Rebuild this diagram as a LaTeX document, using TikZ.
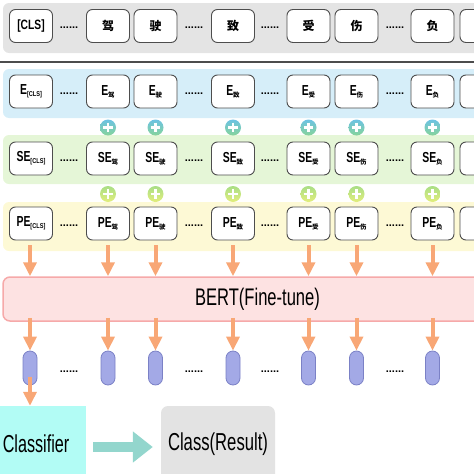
\documentclass[tikz,border=0pt]{standalone}
\usepackage{fontspec}
\setmainfont{Liberation Sans}
\newfontfamily\cjk{Noto Sans CJK SC}
\usepackage{graphicx}
\usetikzlibrary{arrows.meta}
\definecolor{grayband}{HTML}{E4E4E4}
\definecolor{blueband}{HTML}{D6EEF9}
\definecolor{greenband}{HTML}{E5F6D7}
\definecolor{yellowband}{HTML}{FDF9D5}
\definecolor{bertfill}{HTML}{FDE2E2}
\definecolor{bertdraw}{HTML}{F6A9A9}
\definecolor{orangec}{HTML}{F8A776}
\definecolor{capf}{HTML}{A3A9E6}
\definecolor{capd}{HTML}{7B81C6}
\definecolor{cyanc}{HTML}{B2FCF5}
\definecolor{tealc}{HTML}{93D6CD}
\definecolor{resgray}{HTML}{E3E3E3}
\definecolor{boxc}{HTML}{4D4D4D}
\definecolor{plusblue}{HTML}{6CC2E4}
\definecolor{plusgreen}{HTML}{86D49A}
\definecolor{plusgreen2}{HTML}{A9DE86}
\definecolor{plusyellow}{HTML}{E3EE7C}
\newcommand{\sq}[2]{\scalebox{#1}[1]{#2}}
\newcommand{\tokc}[1]{{\fontsize{12}{12}\selectfont\bfseries\cjk #1}}
\newcommand{\embc}[2]{\sq{0.72}{\fontsize{14.5}{14.5}\selectfont\bfseries #1}\raisebox{-2pt}{\fontsize{6.5}{6.5}\selectfont\bfseries\cjk #2}}
\newcommand{\embl}[2]{\sq{0.72}{\fontsize{14.5}{14.5}\selectfont\bfseries #1}\raisebox{-2pt}{\sq{0.8}{\fontsize{7}{7}\selectfont\bfseries #2}}}
\begin{document}
\begin{tikzpicture}[x=1pt,y=-1pt,
  band/.style={rounded corners=6pt},
  tokbox/.style={draw=boxc, fill=white, rounded corners=6pt, line width=0.9pt,
    minimum width=43pt, minimum height=33pt, inner sep=0pt},
  dotsn/.style={font=\bfseries\fontsize{11}{11}\selectfont, inner sep=0pt},
  oarrow/.style={draw=orangec, line width=4pt, -{Triangle[width=13pt,length=14pt]}},
  capsule/.style={draw=capd, fill=capf, rounded corners=7pt, line width=0.8pt,
    minimum width=14pt, minimum height=34pt, inner sep=0pt},
  plusw/.style={draw=white, line width=2.2pt}
]
\useasboundingbox (0,0) rectangle (474,474);
\clip (0,0) rectangle (474,474);
% bands
\fill[band, grayband] (3,3) rectangle (500,53);
\draw[boxc, line width=1.2pt] (0,62) -- (474,62);
\fill[band, blueband] (3,69) rectangle (500,118);
\fill[band, greenband] (3,135) rectangle (500,184);
\fill[band, yellowband] (3,202) rectangle (500,251);
% column 0
\node[tokbox] (t0) at (31,26) {\sq{0.76}{\fontsize{13.5}{13.5}\selectfont\bfseries [CLS]}};
\node[tokbox] (e0) at (31,91.5) {\embl{E}{[CLS]}};
\node[tokbox] (s0) at (31,158.5) {\embl{SE}{[CLS]}};
\node[tokbox] (p0) at (31,223.5) {\embl{PE}{[CLS]}};
% columns with characters
\foreach \i/\x/\c in {1/108/驾, 2/155.5/驶, 3/233/致, 4/308.5/受, 5/356.5/伤, 6/432.5/负} {
  \node[tokbox] (t\i) at (\x,26) {\tokc{\c}};
  \node[tokbox] (e\i) at (\x,91.5) {\embc{E}{\c}};
  \node[tokbox] (s\i) at (\x,158.5) {\embc{SE}{\c}};
  \node[tokbox] (p\i) at (\x,223.5) {\embc{PE}{\c}};
  \shade[top color=plusblue, bottom color=plusgreen] (\x,127.5) circle (8pt);
  \draw[plusw] (\x-4.8,127.5) -- (\x+4.8,127.5) (\x,122.7) -- (\x,132.3);
  \shade[top color=plusgreen2, bottom color=plusyellow] (\x,194) circle (8pt);
  \draw[plusw] (\x-4.8,194) -- (\x+4.8,194) (\x,189.2) -- (\x,198.8);
}
% partly visible last column
\node[tokbox] (t7) at (481.5,26) {};
\node[tokbox] (e7) at (481.5,91.5) {};
\node[tokbox] (s7) at (481.5,158.5) {};
\node[tokbox] (p7) at (481.5,223.5) {};
% dots in rows
\foreach \dx [count=\k] in {69,194,270,395} {
  \node[dotsn] (dt\k) at (\dx,28) {......};
  \node[dotsn] (de\k) at (\dx,93.5) {......};
  \node[dotsn] (ds\k) at (\dx,160.5) {......};
  \node[dotsn] (dp\k) at (\dx,225.5) {......};
  \node[dotsn] (dc\k) at (\dx,372) {......};
}
% BERT
\node[draw=bertdraw, fill=bertfill, line width=1.5pt, rounded corners=7pt,
  minimum width=509pt, minimum height=44pt, inner sep=0pt] (bert) at (257.5,299)
  {\sq{0.69}{\fontsize{24}{24}\selectfont BERT(Fine-tune)}};
% capsules and arrows
\foreach \i/\x in {0/30,1/108,2/155.5,3/233,4/308.5,5/356.5,6/432.5} {
  \node[capsule] (c\i) at (\x,368) {};
  \draw[oarrow, shorten <=5pt] (p\i.south -| \x,0) -- (bert.north -| \x,0);
  \draw[oarrow, shorten <=-4pt] (bert.south -| \x,0) -- (c\i.north);
}
% classifier and result
\node[fill=cyanc, minimum width=100pt, minimum height=76pt, inner sep=0pt] (cls) at (36,444)
  {\sq{0.66}{\fontsize{24.5}{24.5}\selectfont Classifier}};
\node[fill=resgray, rounded corners=7pt, minimum width=114pt, minimum height=76pt, inner sep=0pt] (res) at (218,444)
  {\sq{0.68}{\fontsize{24.5}{24.5}\selectfont Class(Result)}};
\draw[oarrow, shorten <=-8pt] (c0.south) -- (cls.north -| c0.south);
\draw[tealc, line width=10pt, -{Triangle[width=30pt,length=20pt]}, shorten <=7pt, shorten >=8pt]
  ([yshift=-3pt]cls.east) -- ([yshift=-3pt]res.west);
\end{tikzpicture}
\end{document}
